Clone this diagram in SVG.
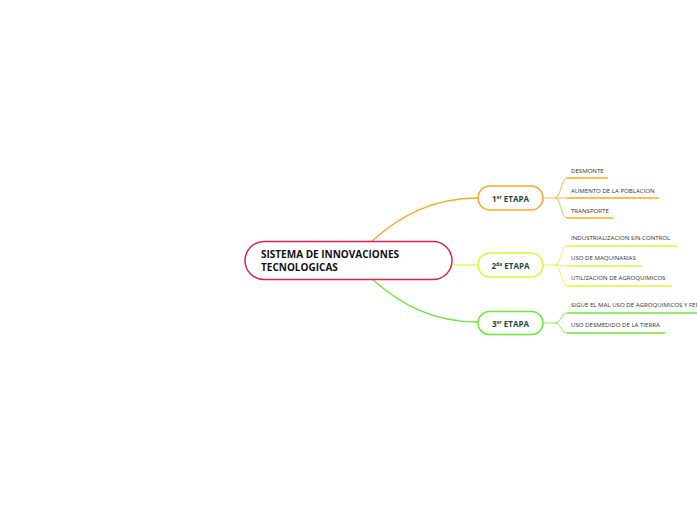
<svg xmlns="http://www.w3.org/2000/svg" width="697" height="520" viewBox="0 0 697 520">
<style>
.bg{fill:#ffffff}
.node{fill:#ffffff;stroke-width:1.5}
.t-main{font-family:"Open Sans","Liberation Sans",sans-serif;font-weight:bold;font-size:10px;fill:#111111}
.t-stage{font-family:"Open Sans","Liberation Sans",sans-serif;font-weight:bold;font-size:8px;fill:#1d4a3a}
.t-sup{font-size:5px}
.t-leaf{font-family:"Open Sans","Liberation Sans",sans-serif;font-size:6.1px;fill:#333333}
.con{fill:none;stroke-width:1.3}
.br{fill:none;stroke-width:0.8}
.ul{fill:none;stroke-width:1.6}
.o{stroke:#ffa722}
.y{stroke:#def53a}
.g{stroke:#6de835}
</style>
<rect class="bg" x="0" y="0" width="697" height="520"/>
<g id="connectors">
<path class="con o" d="M372 241 C 400 216, 432 198, 478 198"/>
<path class="con y" d="M452 265 L 478 265"/>
<path class="con g" d="M372 279 C 400 304, 432 322, 478 322"/>
<path class="br o" d="M543 198 L 555 198 C 561 198, 561 178, 567 178 M555 198 L 567 198 M555 198 C 561 198, 561 218, 567 218"/>
<path class="br y" d="M543 265 L 555 265 C 561 265, 561 246, 567 246 M555 265 L 567 266 M555 265 C 561 265, 561 286, 567 286"/>
<path class="br g" d="M543 323 L 555 323 C 561 323, 561 313, 567 313 M555 323 C 561 323, 561 333, 567 333"/>
</g>
<g id="central">
<rect class="node" x="245" y="241.5" width="207" height="38" rx="19" stroke="#dc1f5a"/>
<text class="t-main" x="261" y="258">SISTEMA DE INNOVACIONES</text>
<text class="t-main" x="261" y="271">TECNOLOGICAS</text>
</g>
<g id="etapa1">
<rect class="node" x="478" y="186" width="65" height="24" rx="12" stroke="#ffa722"/>
<text class="t-stage" x="510.5" y="201.5" text-anchor="middle">1<tspan class="t-sup" dy="-3">er</tspan><tspan dy="3"> ETAPA</tspan></text>
</g>
<g id="etapa1-desmonte">
<path class="ul o" d="M567 178 L 608 178"/>
<text class="t-leaf" x="571" y="173">DESMONTE</text>
</g>
<g id="etapa1-aumento">
<path class="ul o" d="M567 198 L 659 198"/>
<text class="t-leaf" x="571" y="193">AUMENTO DE LA POBLACION</text>
</g>
<g id="etapa1-transporte">
<path class="ul o" d="M567 218 L 613 218"/>
<text class="t-leaf" x="571" y="213">TRANSPORTE</text>
</g>
<g id="etapa2">
<rect class="node" x="478" y="253" width="65" height="24" rx="12" stroke="#def53a"/>
<text class="t-stage" x="510.5" y="268.5" text-anchor="middle">2<tspan class="t-sup" dy="-3">da</tspan><tspan dy="3"> ETAPA</tspan></text>
</g>
<g id="etapa2-industrializacion">
<path class="ul y" d="M567 246 L 677 246"/>
<text class="t-leaf" x="571" y="240">INDUSTRIALIZACION SIN CONTROL</text>
</g>
<g id="etapa2-maquinarias">
<path class="ul y" d="M567 266 L 642 266"/>
<text class="t-leaf" x="571" y="260">USO DE MAQUINARIAS</text>
</g>
<g id="etapa2-agroquimicos">
<path class="ul y" d="M567 286 L 672 286"/>
<text class="t-leaf" x="571" y="280">UTILIZACION DE AGROQUIMICOS</text>
</g>
<g id="etapa3">
<rect class="node" x="478" y="311.5" width="65" height="23" rx="11.5" stroke="#6de835"/>
<text class="t-stage" x="510.5" y="326.5" text-anchor="middle">3<tspan class="t-sup" dy="-3">er</tspan><tspan dy="3"> ETAPA</tspan></text>
</g>
<g id="etapa3-sigue">
<path class="ul g" d="M567 313 L 697 313"/>
<text class="t-leaf" x="571" y="307">SIGUE EL MAL USO DE AGROQUIMICOS Y FERTILIZANTES</text>
</g>
<g id="etapa3-uso">
<path class="ul g" d="M567 333 L 665 333"/>
<text class="t-leaf" x="571" y="327">USO DESMEDIDO DE LA TIERRA</text>
</g>
</svg>
